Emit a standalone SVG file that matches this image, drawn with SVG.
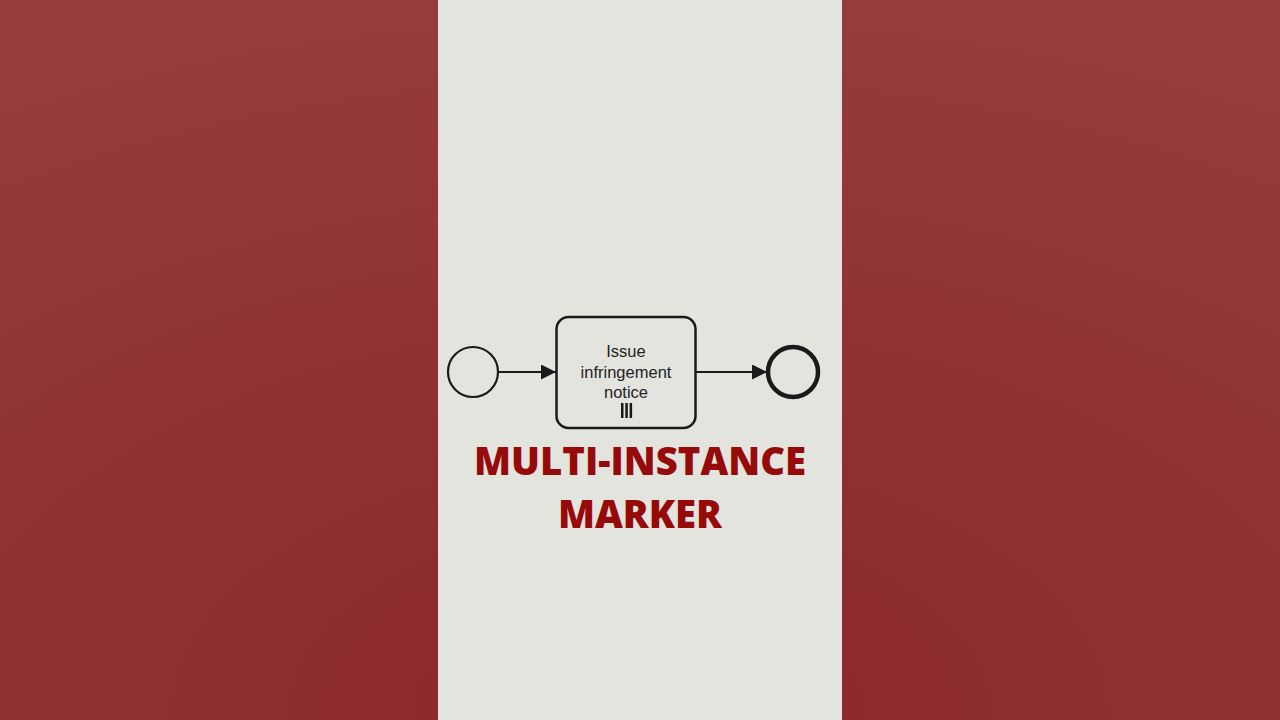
<svg xmlns="http://www.w3.org/2000/svg" width="1280" height="720" viewBox="0 0 1280 720">
<defs>
<radialGradient id="bgL" cx="0.5" cy="1" r="1">
<stop offset="0" stop-color="#8a2628"/><stop offset="1" stop-color="#963c3c"/>
</radialGradient>
<marker id="arr" viewBox="0 0 10 10" refX="10" refY="5" markerWidth="15" markerHeight="15" markerUnits="userSpaceOnUse" orient="auto">
<path d="M0,0 L10,5 L0,10 z" fill="#1a1a1a"/>
</marker>
<style>
.ev{fill:none;stroke:#1a1a1a}
.lbl{font-family:"Liberation Sans",Arial,sans-serif;font-size:16.5px;fill:#222;text-anchor:middle}
.title{font-family:"Open Sans",sans-serif;font-weight:800;font-size:38.3px;fill:#970a0a;text-anchor:middle}
.flow{stroke:#1a1a1a;stroke-width:2.2;fill:none}
</style>
</defs>
<rect width="1280" height="720" fill="url(#bgL)"/>
<rect x="438" y="0" width="404" height="720" fill="#e4e4df"/>
<g id="connectors">
<line class="flow" x1="499" y1="372" x2="556" y2="372" marker-end="url(#arr)"/>
<line class="flow" x1="696" y1="372" x2="767" y2="372" marker-end="url(#arr)"/>
</g>
<g id="start">
<circle class="ev" cx="473" cy="372" r="25" stroke-width="2.2"/>
</g>
<g id="task">
<rect x="556.5" y="317" width="139" height="111" rx="12" fill="none" stroke="#1a1a1a" stroke-width="2.5"/>
<text class="lbl" x="626" y="357">Issue</text>
<text class="lbl" x="626" y="378">infringement</text>
<text class="lbl" x="626" y="398">notice</text>
<rect x="621" y="403" width="2.5" height="15" fill="#1a1a1a"/>
<rect x="625.3" y="403" width="2.5" height="15" fill="#1a1a1a"/>
<rect x="629.6" y="403" width="2.5" height="15" fill="#1a1a1a"/>
</g>
<g id="end">
<circle class="ev" cx="793" cy="372" r="25" stroke-width="4.5"/>
</g>
<g id="title">
<text class="title" x="640" y="475">MULTI-INSTANCE</text>
<text class="title" x="640" y="528">MARKER</text>
</g>
</svg>
